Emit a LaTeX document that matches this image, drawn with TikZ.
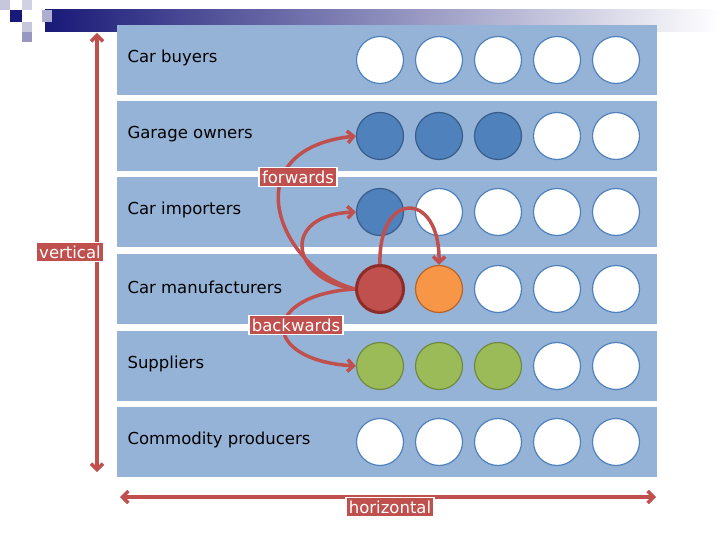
\documentclass[tikz,border=0pt]{standalone}
\usepackage{fontspec}
\setmainfont{DejaVu Sans}
\usetikzlibrary{positioning}
\definecolor{band}{RGB}{149,179,215}
\definecolor{navy}{RGB}{25,25,120}
\definecolor{fwdred}{RGB}{192,80,77}
\definecolor{darkred}{RGB}{140,45,42}
\definecolor{fillblue}{RGB}{79,129,189}
\definecolor{lineblue}{RGB}{56,93,138}
\definecolor{fillgreen}{RGB}{155,187,89}
\definecolor{linegreen}{RGB}{113,137,63}
\definecolor{fillorange}{RGB}{247,150,70}
\definecolor{lineorange}{RGB}{182,100,40}
\tikzset{
  row/.style={fill=band,draw=none,minimum width=540pt,minimum height=70pt,inner sep=0pt},
  rowlabel/.style={anchor=west,font=\fontsize{16.5}{18}\selectfont,text=black},
  firm/.style={circle,minimum size=47pt,inner sep=0pt,line width=1.2pt,draw=fillblue,fill=white},
  bluefirm/.style={firm,fill=fillblue,draw=lineblue},
  greenfirm/.style={firm,fill=fillgreen,draw=linegreen},
  redfirm/.style={firm,fill=fwdred,draw=darkred,line width=3pt},
  orangefirm/.style={firm,fill=fillorange,draw=lineorange},
  tag/.style={fill=fwdred,draw=white,line width=1.5pt,text=white,font=\fontsize{16.5}{18}\selectfont,inner sep=3pt},
  flow/.style={draw=fwdred,line width=3.5pt,-{Straight Barb[length=6pt,width=12pt]}}
}
\usetikzlibrary{arrows.meta}
\begin{document}
\begin{tikzpicture}[x=1pt,y=-1pt]
\useasboundingbox (0,0) rectangle (720,540);
% title bar
\shade[left color=navy,right color=white] (45,10) rectangle (720,32);
\fill[navy] (10,10) rectangle (22,22);
\fill[navy!25] (0,0) rectangle (10,10);
\fill[navy!20] (22,0) rectangle (32,10);
\fill[navy!35] (42,10) rectangle (52,22);
\fill[navy!25] (22,22) rectangle (32,32);
\fill[navy!45] (22,32) rectangle (32,42);
% rows
\foreach \y/\name/\txt in {60/buyers/Car buyers,136/garage/Garage owners,212/importers/Car importers,289/makers/Car manufacturers,366/suppliers/Suppliers,442/commodity/Commodity producers}{
  \node[row] (row-\name) at (387,\y) {};
  \node[rowlabel] (lab-\name) at (124,\y-2) {\txt};
}
% firms
\foreach \name/\a/\b/\c/\d/\e in {buyers/firm/firm/firm/firm/firm,garage/bluefirm/bluefirm/bluefirm/firm/firm,importers/bluefirm/firm/firm/firm/firm,makers/redfirm/orangefirm/firm/firm/firm,suppliers/greenfirm/greenfirm/greenfirm/firm/firm,commodity/firm/firm/firm/firm/firm}{
  \path (row-\name.center) coordinate (c);
  \node[\a] (\name-1) at (380,0 |- c) {};
  \node[\b] (\name-2) at (439,0 |- c) {};
  \node[\c] (\name-3) at (498,0 |- c) {};
  \node[\d] (\name-4) at (557,0 |- c) {};
  \node[\e] (\name-5) at (616,0 |- c) {};
}
% axes
\coordinate (vtop) at (97,33);
\coordinate (vbot) at (97,472);
\coordinate (hleft) at (120,497);
\coordinate (hright) at (656,497);
\draw[fwdred,line width=3.5pt,{Straight Barb[length=6pt,width=12pt]}-{Straight Barb[length=6pt,width=12pt]}] (vtop) -- (vbot);
\draw[fwdred,line width=3.5pt,{Straight Barb[length=6pt,width=12pt]}-{Straight Barb[length=6pt,width=12pt]}] (hleft) -- (hright);
\node[tag] (vertical) at (70,252) {vertical};
\node[tag] (horizontal) at (390,507) {horizontal};
% integration arrows
\draw[flow] (makers-1.west) .. controls (280,270) and (230,150) .. (garage-1.west);
\draw[flow] (makers-1.west) .. controls (290,280) and (280,215) .. (importers-1.west);
\draw[flow] (makers-1.north) .. controls (378,190) and (440,190) .. (makers-2.north);
\draw[flow] (makers-1.west) .. controls (260,295) and (260,360) .. (suppliers-1.west);
\node[tag] (forwards) at (298,177) {forwards};
\node[tag] (backwards) at (296,325) {backwards};
\end{tikzpicture}
\end{document}
